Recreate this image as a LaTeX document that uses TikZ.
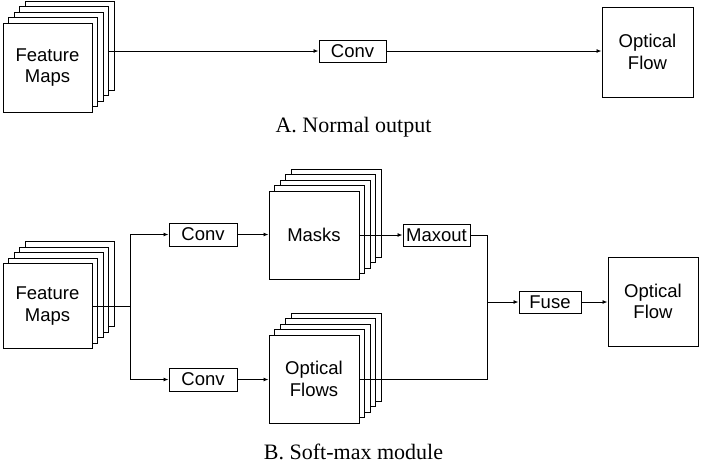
\documentclass[tikz,border=0pt]{standalone}
\usepackage{fontspec}
\setmainfont{Liberation Serif}
\newfontfamily\boxfont{Liberation Sans}
\usetikzlibrary{arrows.meta,calc}
\begin{document}
\begin{tikzpicture}[x=1pt,y=-1pt,
  box/.style={draw,line width=1pt,fill=white,inner sep=0pt,align=center,
    font=\boxfont\fontsize{18.5}{21.5}\selectfont},
  conn/.style={line width=0.9pt},
  arr/.style={conn,-{Latex[length=5pt,width=4pt]}},
  captext/.style={font=\fontsize{22}{24}\selectfont}]
\useasboundingbox (0,0) rectangle (703,467);
% ---------- A ----------
\foreach \i in {4,3,2,1}
  \node[box,minimum width=89pt,minimum height=89pt] (fmA\i) at ($(47.5,67.5)+(\i*5.5,-\i*5.5)$) {};
\node[box,minimum width=89pt,minimum height=89pt] (fmA) at (47.5,67.5) {Feature\\Maps};
\node[box,minimum width=67pt,minimum height=22pt] (convA) at (352.5,51) {Conv};
\node[box,minimum width=91pt,minimum height=90pt] (flowA) at (647.5,52) {Optical\\Flow};
\draw[arr] (fmA3.east) -- (convA.west);
\draw[arr] (convA.east) -- (convA.east -| flowA.west);
\node[captext] (capA) at (353.5,127) {A. Normal output};
% ---------- B ----------
\foreach \i in {4,3,2,1}
  \node[box,minimum width=89pt,minimum height=85pt] (fmB\i) at ($(47.5,306)+(\i*5.5,-\i*5.5)$) {};
\node[box,minimum width=89pt,minimum height=85pt] (fmB) at (47.5,306) {Feature\\Maps};
\node[box,minimum width=68pt,minimum height=23pt] (convB1) at (203,234.5) {Conv};
\node[box,minimum width=68pt,minimum height=23pt] (convB2) at (203,379.5) {Conv};
\foreach \i in {4,3,2,1}
  \node[box,minimum width=90pt,minimum height=88pt] (masks\i) at ($(314,235)+(\i*5.5,-\i*5.5)$) {};
\node[box,minimum width=90pt,minimum height=88pt] (masks) at (314,235) {Masks};
\foreach \i in {4,3,2,1}
  \node[box,minimum width=90pt,minimum height=88pt] (flows\i) at ($(314,379)+(\i*5.5,-\i*5.5)$) {};
\node[box,minimum width=90pt,minimum height=88pt] (flows) at (314,379) {Optical\\Flows};
\node[box,minimum width=67pt,minimum height=22pt] (maxout) at (436.5,235) {Maxout};
\node[box,minimum width=62pt,minimum height=22pt] (fuse) at (550,302) {Fuse};
\node[box,minimum width=90pt,minimum height=89pt] (flowB) at (653,301.5) {Optical\\Flow};
\coordinate (split) at (130.5,306);
\coordinate (merge) at (487,302);
\draw[conn] (fmB.east) -- (split);
\draw[arr] (split) |- (convB1.west);
\draw[arr] (split) |- (convB2.west);
\draw[arr] (convB1.east) -- (convB1.east -| masks.west);
\draw[arr] (convB2.east) -- (convB2.east -| flows.west);
\draw[arr] (masks.east) -- (maxout.west);
\draw[conn] (maxout.east) -| (merge);
\draw[conn] (flows.east) -| (merge);
\draw[arr] (merge) -- (fuse.west);
\draw[arr] (fuse.east) -- (flowB.west |- fuse.east);
\node[captext] (capB) at (353.5,452) {B. Soft-max module};
\end{tikzpicture}
\end{document}
